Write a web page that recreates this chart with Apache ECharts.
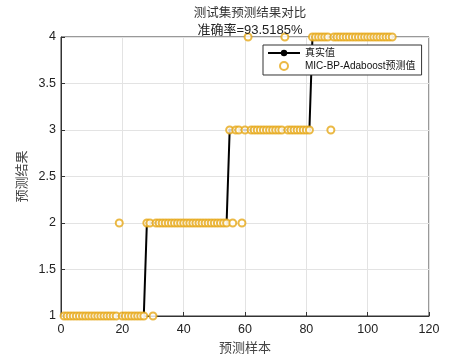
<!DOCTYPE html>
<html>
<head>
<meta charset="utf-8">
<script src="https://cdn.jsdelivr.net/npm/echarts@6/dist/echarts.min.js"></script>
<style>
  html, body { margin: 0; padding: 0; background: #fff; }
  #chart { width: 474px; height: 355px; }
</style>
</head>
<body>
<div id="chart"></div>
<script>
/* 测试集预测结果对比 — 真实值 vs 预测值 */

const titleText = "测试集预测结果对比";
const subText = "准确率=93.5185%";
const xTicks = [0, 20, 40, 60, 80, 100, 120];
const yTicks = [1, 1.5, 2, 2.5, 3, 3.5, 4];

// 真实值 (样本 1..108)
const trueVals = [
    1,1,1,1,1,1,1,1,1,1,1,1,1,1,1,1,1,1,1,1,1,1,1,1,1,1,1,
    2,2,2,2,2,2,2,2,2,2,2,2,2,2,2,2,2,2,2,2,2,2,2,2,2,2,2,
    3,3,3,3,3,3,3,3,3,3,3,3,3,3,3,3,3,3,3,3,3,3,3,3,3,3,3,
    4,4,4,4,4,4,4,4,4,4,4,4,4,4,4,4,4,4,4,4,4,4,4,4,4,4,4
];
// MIC-BP-Adaboost 预测值
const predVals = [
    1,1,1,1,1,1,1,1,1,1,1,1,1,1,1,1,1,1,2,1,1,1,1,1,1,1,1,
    2,2,1,2,2,2,2,2,2,2,2,2,2,2,2,2,2,2,2,2,2,2,2,2,2,2,2,
    3,2,3,3,2,3,4,3,3,3,3,3,3,3,3,3,3,3,4,3,3,3,3,3,3,3,3,
    4,4,4,4,4,4,3,4,4,4,4,4,4,4,4,4,4,4,4,4,4,4,4,4,4,4,4
];

const FONT = "'Liberation Sans', Arial, 'Noto Sans CJK SC', sans-serif";
const CJK = "'Noto Sans CJK SC', sans-serif";
const ORANGE = "#E6A817";

const chart = echarts.init(document.getElementById("chart"));

chart.setOption({
    animation: false,
    backgroundColor: "#fff",
    title: {
        text: titleText,
        subtext: subText,
        left: 245, textAlign: "center", top: 1,
        itemGap: 5,
        textStyle: { fontFamily: CJK, fontSize: 12.5, fontWeight: "normal", color: "#333" },
        subtextStyle: { fontFamily: FONT, fontSize: 13, color: "#222" }
    },
    legend: {
        orient: "vertical",
        left: 263, top: 45,
        padding: [3, 6, 4, 4],
        itemGap: 3,
        itemWidth: 32, itemHeight: 8,
        backgroundColor: "#fff",
        borderColor: "#333", borderWidth: 1,
        textStyle: { fontFamily: FONT, fontSize: 10, color: "#111" },
        data: ["真实值", "MIC-BP-Adaboost预测值"]
    },
    grid: {
        left: 61, right: 45, top: 37, bottom: 39,
        outerBoundsMode: "none", containLabel: false,
        show: true, borderColor: "#333", borderWidth: 1
    },
    xAxis: {
        type: "value", min: 0, max: 120, interval: 20,
        name: "预测样本", nameLocation: "middle", nameGap: 21,
        nameTextStyle: { fontFamily: CJK, fontSize: 13, color: "#444" },
        axisLine: { show: true, lineStyle: { color: "#333" } },
        axisTick: { inside: true, length: 4, lineStyle: { color: "#333" } },
        axisLabel: { fontFamily: FONT, fontSize: 12.5, color: "#222", margin: 7,
            formatter: v => xTicks.includes(v) ? String(v) : "" },
        splitLine: { show: true, lineStyle: { color: "#e3e3e3" } }
    },
    yAxis: {
        type: "value", min: 1, max: 4, interval: 0.5,
        name: "预测结果", nameLocation: "middle", nameGap: 29, nameRotate: 90,
        nameTextStyle: { fontFamily: CJK, fontSize: 13, color: "#444" },
        axisLine: { show: true, lineStyle: { color: "#333" } },
        axisTick: { inside: true, length: 4, lineStyle: { color: "#333" } },
        axisLabel: { fontFamily: FONT, fontSize: 12.5, color: "#222", margin: 5,
            formatter: v => yTicks.includes(v) ? String(v) : "" },
        splitLine: { show: true, lineStyle: { color: "#e3e3e3" } }
    },
    series: [
        {
            name: "真实值",
            type: "line",
            data: trueVals.map((v, i) => [i + 1, v]),
            symbol: "circle", symbolSize: 3,
            showAllSymbol: true,
            lineStyle: { color: "#000", width: 2 },
            itemStyle: { color: "#000" },
            z: 2
        },
        {
            name: "MIC-BP-Adaboost预测值",
            type: "scatter",
            data: predVals.map((v, i) => [i + 1, v]),
            symbol: "emptyCircle", symbolSize: 7,
            itemStyle: { color: ORANGE, borderColor: ORANGE, borderWidth: 1.3 },
            z: 3
        }
    ]
});
</script>
</body>
</html>
